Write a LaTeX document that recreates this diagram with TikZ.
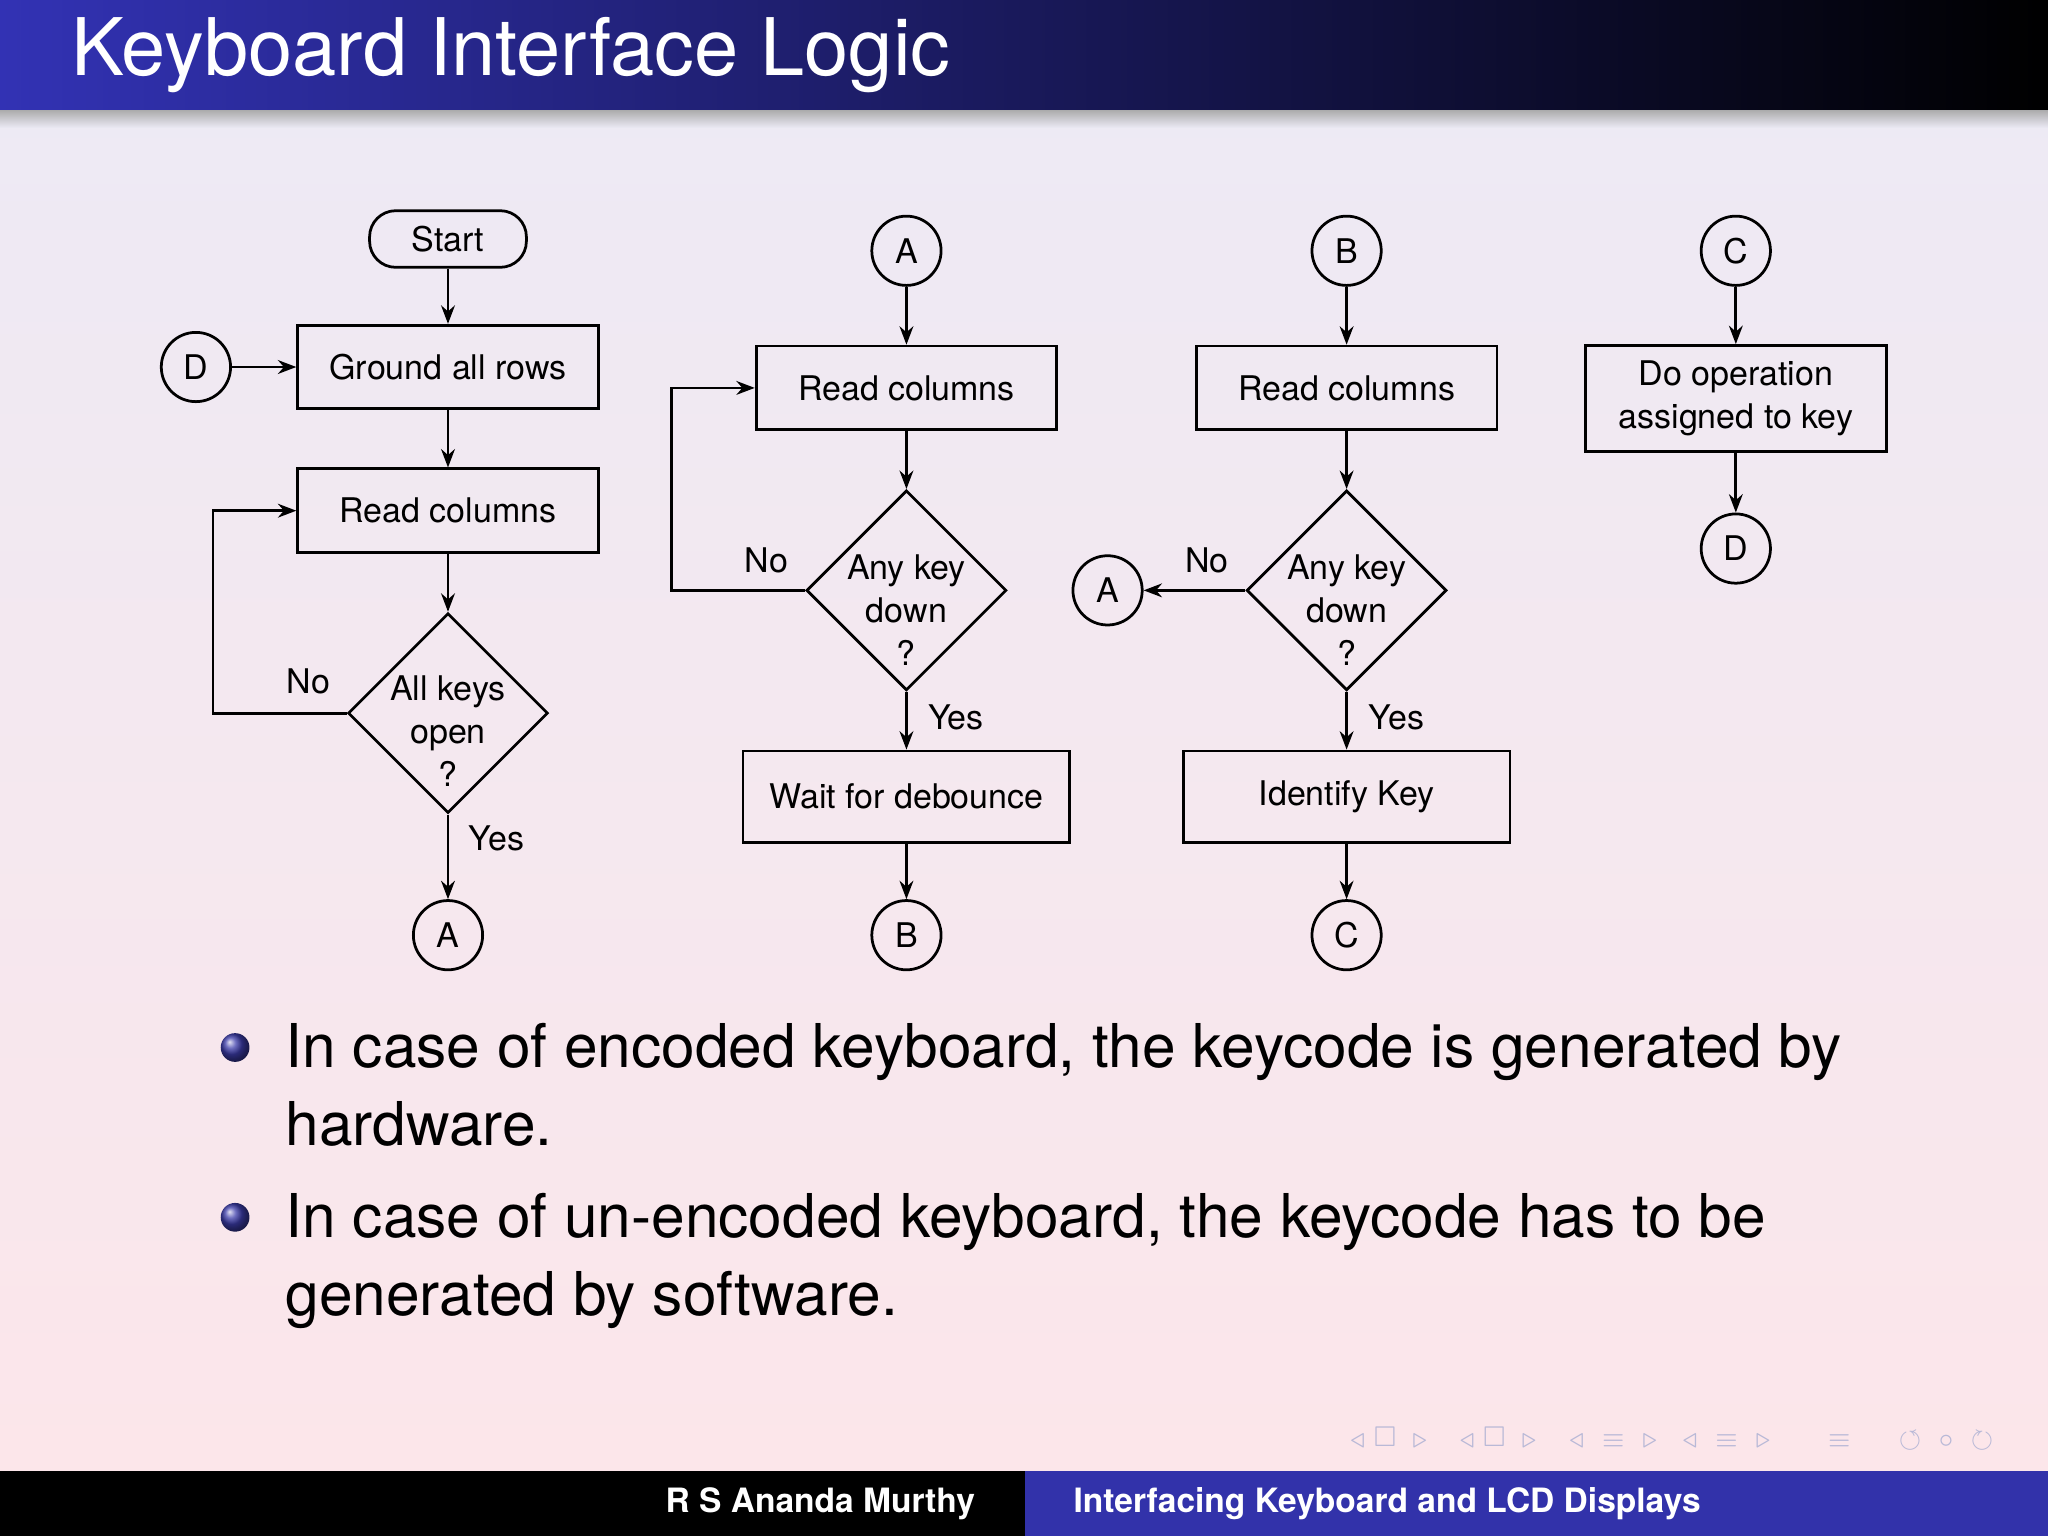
\documentclass[tikz,border=0pt]{standalone}
\usepackage{amssymb}
\usepackage{fontspec}
\setmainfont{TeX Gyre Heros}
\usetikzlibrary{shapes.geometric,shapes.misc,arrows.meta}
\definecolor{bgtop}{RGB}{236,234,245}
\definecolor{bgbot}{RGB}{252,230,234}
\definecolor{tblue}{RGB}{50,50,180}
\definecolor{fblue}{RGB}{50,50,170}
\definecolor{ballc}{RGB}{60,60,170}
\definecolor{navc}{RGB}{185,185,215}
\begin{document}
\begin{tikzpicture}[x=0.01cm,y=-0.01cm,
  every node/.style={font=\fontsize{7.4}{9.4}\selectfont},
  box/.style={draw,line width=0.6pt,minimum width=2.3cm,minimum height=0.64cm,align=center,inner sep=1pt},
  conn/.style={draw,circle,line width=0.6pt,minimum size=0.53cm,inner sep=0pt},
  dia/.style={draw,diamond,line width=0.6pt,minimum width=1.53cm,minimum height=1.53cm,inner sep=0pt},
  diatext/.style={align=center,inner sep=0pt},
  term/.style={draw,rounded corners=0.2cm,line width=0.6pt,minimum width=1.2cm,minimum height=0.4cm},
  bul/.style={anchor=north west,align=left,inner sep=0pt,font=\fontsize{13.15}{17}\selectfont},
  ar/.style={draw,line width=0.6pt,-{Stealth[length=4pt,width=3pt]}}]
\useasboundingbox (0,0) rectangle (1568,1176);
\shade[top color=bgtop,bottom color=bgbot] (0,0) rectangle (1568,1126);
\shade[top color=black!35,bottom color=bgtop] (0,83) rectangle (1568,98);
\shade[left color=tblue,right color=black] (0,0) rectangle (1568,84);
\node[anchor=west,text=white,font=\fontsize{17.3}{20}\selectfont] (title) at (42,42) {Keyboard Interface Logic};
\fill[black] (0,1126) rectangle (785,1176);
\fill[fblue] (785,1126) rectangle (1568,1176);
\node[text=white,font=\fontsize{7.3}{9}\selectfont\bfseries] (f1) at (628,1151) {R S Ananda Murthy};
\node[text=white,font=\fontsize{7.3}{9}\selectfont\bfseries] (f2) at (1062,1151) {Interfacing Keyboard and LCD Displays};
% column 1
\node[term] (st) at (343,183) {Start};
\node[box] (g) at (343,281) {Ground all rows};
\node[conn] (d1) at (150,281) {D};
\node[box] (r1) at (343,391) {Read columns};
\node[dia] (k1) at (343,546) {};
\node[diatext] (k1t) at (343,560) {All keys\\open\\?};
\node[conn] (a1) at (343,716) {A};
\draw[ar] (st) -- (g);
\draw[ar] (d1) -- (g);
\draw[ar] (g) -- (r1);
\draw[ar] (r1) -- (k1);
\draw[ar] (k1) -- (a1);
\draw[ar] (k1.west) -- (163,546) -- (163,391) -- (r1.west);
\node (no1) at (236,522) {No};
\node (y1) at (380,642) {Yes};
% column 2
\node[conn] (a2) at (694,192) {A};
\node[box] (r2) at (694,297) {Read columns};
\node[dia] (k2) at (694,452) {};
\node[diatext] (k2t) at (694,467) {Any key\\down\\?};
\node[box,minimum width=2.5cm,minimum height=0.7cm] (w) at (694,610) {Wait for debounce};
\node[conn] (b2) at (694,716) {B};
\draw[ar] (a2) -- (r2);
\draw[ar] (r2) -- (k2);
\draw[ar] (k2) -- (w);
\draw[ar] (w) -- (b2);
\draw[ar] (k2.west) -- (514,452) -- (514,297) -- (r2.west);
\node (no2) at (587,429) {No};
\node (y2) at (732,549) {Yes};
% column 3
\node[conn] (b3) at (1031,192) {B};
\node[box] (r3) at (1031,297) {Read columns};
\node[dia] (k3) at (1031,452) {};
\node[diatext] (k3t) at (1031,467) {Any key\\down\\?};
\node[box,minimum width=2.5cm,minimum height=0.7cm] (id) at (1031,610) {Identify Key};
\node[conn] (c3) at (1031,716) {C};
\node[conn] (a3) at (848,452) {A};
\draw[ar] (b3) -- (r3);
\draw[ar] (r3) -- (k3);
\draw[ar] (k3) -- (id);
\draw[ar] (id) -- (c3);
\draw[ar] (k3) -- (a3);
\node (no3) at (924,429) {No};
\node (y3) at (1069,549) {Yes};
% column 4
\node[conn] (c4) at (1329,192) {C};
\node[box,minimum height=0.81cm] (op) at (1329,305) {Do operation\\assigned to key};
\node[conn] (d4) at (1329,420) {D};
\draw[ar] (c4) -- (op);
\draw[ar] (op) -- (d4);
% bullets
\shade[ball color=ballc] (180,802) circle (11);
\shade[ball color=ballc] (180,932) circle (11);
\node[bul] (t1) at (218,783) {In case of encoded keyboard, the keycode is generated by\\hardware.};
\node[bul] (t2) at (218,913) {In case of un-encoded keyboard, the keycode has to be\\generated by software.};
% nav icons
\node[text=navc,font=\fontsize{5}{6}\selectfont] (nav) at (1280,1102) {$\triangleleft\ \square\ \triangleright\quad\triangleleft\ \square\ \triangleright\quad\triangleleft\ \equiv\ \triangleright\quad\triangleleft\ \equiv\ \triangleright\qquad\equiv\qquad\circlearrowleft\,\circ\,\circlearrowright$};
\end{tikzpicture}
\end{document}
